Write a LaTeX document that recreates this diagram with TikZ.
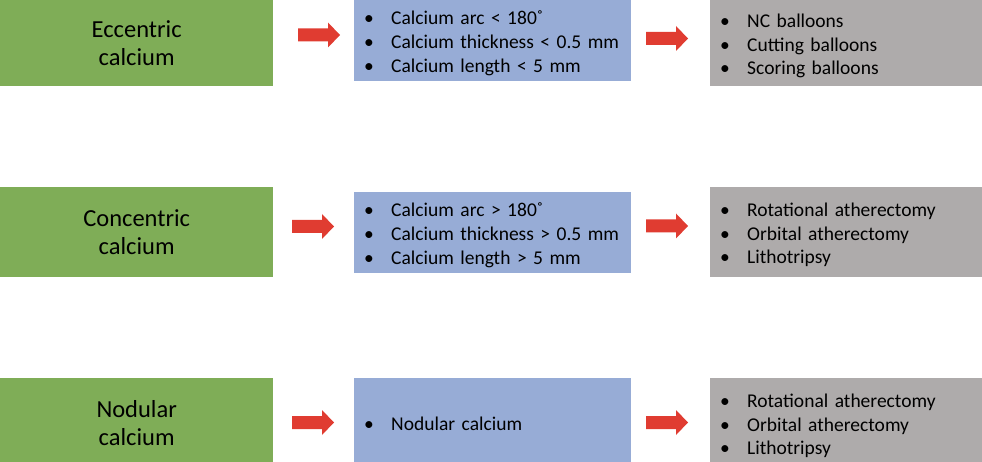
\documentclass[tikz,border=0pt]{standalone}
\usepackage{fontspec}
\setmainfont{Carlito}
\definecolor{boxgreen}{HTML}{7FAD57}
\definecolor{boxblue}{HTML}{97ACD6}
\definecolor{boxgray}{HTML}{AEABAB}
\definecolor{arrowred}{HTML}{E03C31}
\newcommand\mybul{\makebox[27pt][l]{\textbullet}}
\tikzset{
  catbox/.style={fill=boxgreen, anchor=north west, inner sep=0pt, minimum width=273pt, text width=253pt, align=center, font=\fontsize{24.5}{28}\selectfont},
  critbox/.style={fill=boxblue, anchor=north west, inner ysep=0pt, inner xsep=10pt, text width=257pt, minimum height=81pt, text height=19pt, align=left, font=\fontsize{19.5}{23.7}\selectfont},
  treatbox/.style={fill=boxgray, anchor=north west, inner ysep=0pt, inner xsep=10pt, text width=252pt, text height=19pt, align=left, font=\fontsize{19.5}{23.7}\selectfont},
  blockarr/.pic={\fill[arrowred] (0,-6.5) -- (30,-6.5) -- (30,-12.5) -- (42,0) -- (30,12.5) -- (30,6.5) -- (0,6.5) -- cycle;}
}
\begin{document}
\begin{tikzpicture}[x=1pt,y=-1pt]
\useasboundingbox (0,0) rectangle (982,462);
\clip (0,0) rectangle (982,462);
% row 1
\node[catbox, minimum height=86pt] (c1) at (0,0) {Eccentric\\calcium};
\node[critbox] (k1) at (354,0) {\mybul Calcium arc < 180˚\\\mybul Calcium thickness < 0.5 mm\\\mybul Calcium length < 5 mm};
\node[treatbox, minimum height=86pt] (t1) at (710,0) {\mybul NC balloons\\\mybul Cutting balloons\\\mybul Scoring balloons};
\pic (a11) at (298,35) {blockarr};
\pic (a12) at (646,38.5) {blockarr};
% row 2
\node[catbox, minimum height=90pt] (c2) at (0,187) {Concentric\\calcium};
\node[critbox] (k2) at (354,192) {\mybul Calcium arc > 180˚\\\mybul Calcium thickness > 0.5 mm\\\mybul Calcium length > 5 mm};
\node[treatbox, minimum height=90pt] (t2) at (710,187) {\mybul Rotational atherectomy\\\mybul Orbital atherectomy\\\mybul Lithotripsy};
\pic (a21) at (292,226.5) {blockarr};
\pic (a22) at (646,226) {blockarr};
% row 3
\node[catbox, minimum height=90pt] (c3) at (0,378) {Nodular\\calcium};
\node[critbox, minimum height=90pt, text height=15pt] (k3) at (354,378) {\mybul Nodular calcium};
\node[treatbox, minimum height=90pt] (t3) at (710,378) {\mybul Rotational atherectomy\\\mybul Orbital atherectomy\\\mybul Lithotripsy};
\pic (a31) at (292,422.5) {blockarr};
\pic (a32) at (646,422.5) {blockarr};
\end{tikzpicture}
\end{document}
